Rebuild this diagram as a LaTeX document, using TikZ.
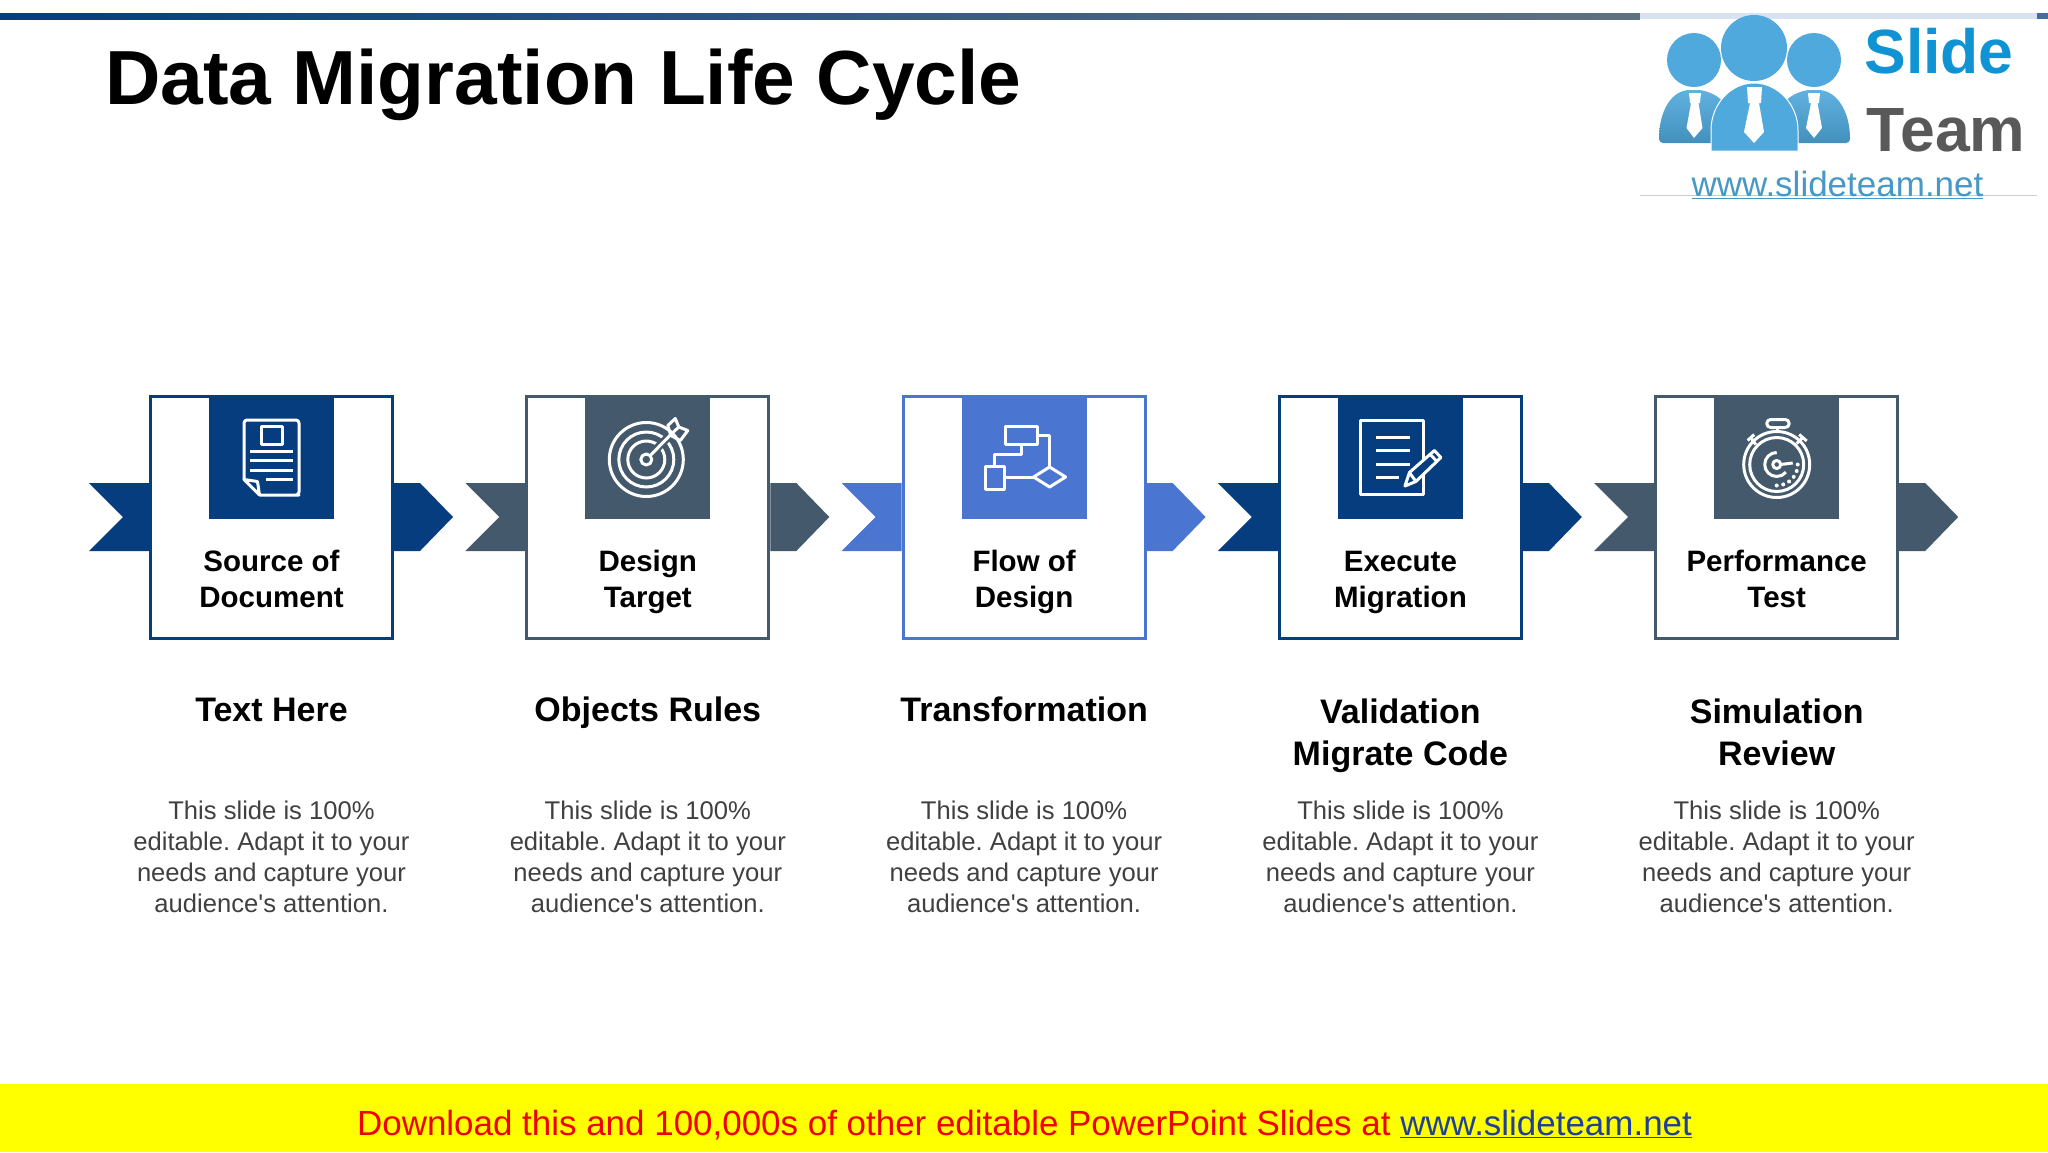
\documentclass[tikz,border=0pt]{standalone}
\usepackage{fontspec}
\setmainfont{Liberation Sans}
\usetikzlibrary{positioning}
\definecolor{navy}{HTML}{053D7F}
\definecolor{slate}{HTML}{44596B}
\definecolor{azure}{HTML}{4A76D2}
\definecolor{bodygray}{HTML}{404040}
\definecolor{logoblue}{HTML}{4FA9DD}
\definecolor{logocyan}{HTML}{0F93D2}
\definecolor{bandblue}{HTML}{D9E2F0}
\definecolor{linkblue}{HTML}{1F3F9E}
\definecolor{footerfill}{HTML}{FFFF00}
\definecolor{footertext}{HTML}{F00000}
\newcommand{\notetext}{This slide is 100\%\\editable. Adapt it to your\\needs and capture your\\audience\textquotesingle s attention.}

\begin{document}
\begin{tikzpicture}[
  x=1pt, y=-1pt,
  stagebox/.style={rectangle, draw=#1, line width=3pt, fill=white, minimum size=242pt, inner sep=0pt, outer sep=0pt},
  iconbox/.style={rectangle, fill=#1, minimum width=125pt, minimum height=123pt, inner sep=0pt, outer sep=0pt},
  stagelabel/.style={align=center, inner sep=0pt, font=\fontsize{29.5}{36}\selectfont\bfseries},
  heading/.style={align=center, inner sep=0pt, font=\fontsize{34}{42}\selectfont\bfseries},
  note/.style={align=center, inner sep=0pt, text=bodygray, font=\fontsize{25.6}{31}\selectfont\frenchspacing},
  glyph/.style={draw=white, line width=3pt, line join=round},
  head/.style={fill=logoblue},
  tie/.style={fill=white}
]
\useasboundingbox (0,0) rectangle (2048,1152);
\fill[white] (0,0) rectangle (2048,1152);

% top rule and title
\shade[left color=navy, right color=slate!85!white] (0,13) rectangle (1640,19);
\node[anchor=base west, inner sep=0pt, font=\fontsize{76.7}{90}\selectfont\bfseries] (title) at (105,104) {Data Migration Life Cycle};

% stages
\node[stagebox=navy] (box1) at (271.5,517) {};
\node[stagebox=slate, right=134.3pt of box1] (box2) {};
\node[stagebox=azure, right=134.3pt of box2] (box3) {};
\node[stagebox=navy, right=134.3pt of box3] (box4) {};
\node[stagebox=slate, right=134.3pt of box4] (box5) {};

\foreach \n/\c in {1/navy, 2/slate, 3/azure, 4/navy, 5/slate} {
  \node[iconbox=\c, anchor=north] (icon\n) at (box\n.north) {};
  \begin{scope}[shift={(box\n.center)}]
    \fill[\c] (-122.5,-34) -- (-182.5,-34) -- (-148.5,0) -- (-182.5,34) -- (-122.5,34) -- cycle;
    \fill[\c] (122.5,-34) -- (148.5,-34) -- (181.5,0) -- (148.5,34) -- (122.5,34) -- cycle;
  \end{scope}
}

\node[stagelabel, below=31pt of icon1] (label1) {Source of\\Document};
\node[stagelabel, below=31pt of icon2] (label2) {Design\\Target};
\node[stagelabel, below=31pt of icon3] (label3) {Flow of\\Design};
\node[stagelabel, below=32pt of icon4] (label4) {Execute\\Migration};
\node[stagelabel, below=31pt of icon5] (label5) {Performance\\Test};

\node[heading, below=60pt of box1] (head1) {Text Here};
\node[heading, below=59pt of box2] (head2) {Objects Rules};
\node[heading, below=59pt of box3] (head3) {Transformation};
\node[heading, below=61pt of box4] (head4) {Validation\\Migrate Code};
\node[heading, below=61pt of box5] (head5) {Simulation\\Review};

\node[note, below=163pt of box1] (note1) {\notetext};
\node[note, below=163pt of box2] (note2) {\notetext};
\node[note, below=163pt of box3] (note3) {\notetext};
\node[note, below=163pt of box4] (note4) {\notetext};
\node[note, below=163pt of box5] (note5) {\notetext};

% document icon
\begin{scope}[shift={(icon1.center)}, glyph]
  \draw[rounded corners=3pt] (-12,37.5) -- (24.5,37.5) -- (27.5,37.5) -- (27.5,-37.5) -- (-27.5,-37.5) -- (-27.5,22);
  \draw (-27.5,22) -- (-12,37.5) -- (-14,24) -- cycle;
  \draw (-10.5,-31.5) rectangle (10.5,-13.5);
  \draw (-21.5,-6.5) -- (21.5,-6.5);
  \draw (-21.5,3) -- (21.5,3);
  \draw (-21.5,12.5) -- (21.5,12.5);
  \draw (-5.5,22) -- (21.5,22);
\end{scope}

% target icon
\begin{scope}[shift={(icon2.center)}, glyph]
  \draw (-1.5,2) circle[radius=37pt];
  \draw (-1.5,2) circle[radius=27.5pt];
  \draw (-1.5,2) circle[radius=18.5pt];
  \draw (-1.5,2) circle[radius=5.5pt];
  \draw[slate, line width=8pt] (3,-3) -- (24,-24);
  \draw (2.5,-2) -- (24,-24);
  \draw (20,-32) -- (27.5,-39) -- (31,-30.5) -- (40,-27) -- (32.5,-17) -- (23,-22) -- cycle;
  \draw (24,-24) -- (31,-30.5);
\end{scope}

% flow icon
\begin{scope}[shift={(icon3.center)}, glyph]
  \draw (-18.5,-31.5) rectangle (13,-13);
  \draw (-39,8.5) rectangle (-20,32);
  \draw (9.5,19.5) -- (25.5,9.5) -- (41.5,19.5) -- (25.5,29.5) -- cycle;
  \draw (13,-22.5) -- (25,-22.5) -- (25,9.5);
  \draw (-2.5,-13) -- (-2.5,-3) -- (-29.5,-3) -- (-29.5,8.5);
  \draw (-20,19.5) -- (9.5,19.5);
\end{scope}

% execute icon
\begin{scope}[shift={(icon4.center)}, glyph]
  \draw (-39.5,-37) rectangle (23,37);
  \draw (-24.5,-20.5) -- (10,-20.5);
  \draw (-24.5,-7) -- (10,-7);
  \draw (-24.5,6.5) -- (10,6.5);
  \draw (-24.5,19.5) -- (-1,19.5);
  \draw[fill=navy] (4.5,28.5) -- (9,15) -- (34,-7) -- (40.5,0) -- (15.5,24) -- cycle;
  \draw (30,-3) -- (36.5,4);
  \draw (9,15) -- (15.5,24);
\end{scope}

% stopwatch icon
\begin{scope}[shift={(icon5.center)}, glyph]
  \draw (0,7) circle[radius=33pt];
  \draw (0,7) circle[radius=27pt];
  \draw[rounded corners=4pt] (-10,-38) rectangle (12.5,-30);
  \draw (1,-30) -- (1,-25);
  \draw (-21,-13) -- (-26,-20);
  \draw (-29,-17) -- (-22.5,-23);
  \draw (20,-14) -- (26,-20);
  \draw (22.5,-23) -- (30,-16.5);
  \draw (0,7) circle[radius=4pt];
  \draw (4,7) -- (16,5.5);
  \draw (0,-5) arc[start angle=90, end angle=320, radius=12pt];
  \foreach \a in {-90,-72,...,0}
    \fill[white] ([shift={(0,7)}]\a:21pt) circle[radius=2pt];
\end{scope}

% logo
\fill[white] (1640,19) rectangle (2040,195);
\fill[bandblue] (1640,13) rectangle (2037,19);
\fill[navy!75!white] (2037,13) rectangle (2048,19);
\draw[black!20] (1640,195) -- (2037,195);
\fill[head] (1694,60) circle[radius=27pt];
\fill[head] (1814,60) circle[radius=27pt];
\shade[top color=logoblue!90!white, bottom color=logoblue!85!black, rounded corners=4pt] (1659,143) .. controls (1659,110) and (1672,90) .. (1694,90) .. controls (1705,90) and (1718,95) .. (1725,105) -- (1725,143) -- cycle;
\shade[top color=logoblue!90!white, bottom color=logoblue!85!black, rounded corners=4pt] (1850,143) .. controls (1850,110) and (1836,90) .. (1814,90) .. controls (1803,90) and (1790,95) .. (1783,105) -- (1783,143) -- cycle;
\fill[tie] (1689,93) -- (1701,93) -- (1700,103) -- (1698.5,103) -- (1702.5,128) -- (1694,138) -- (1686.5,128) -- (1691,103) -- (1690,103) -- cycle;
\fill[tie] (1808,93) -- (1820,93) -- (1819,103) -- (1817.5,103) -- (1822,128) -- (1814,138) -- (1806,128) -- (1811,103) -- (1809,103) -- cycle;
\fill[head] (1754,48) circle[radius=33pt];
\draw[white, line width=1pt, fill=logoblue] (1711,151) -- (1711,130) .. controls (1711,105) and (1730,83) .. (1754,83) .. controls (1778,83) and (1798,105) .. (1798,130) -- (1798,151) -- cycle;
\fill[tie] (1747,87) -- (1762,87) -- (1761,103) -- (1759,103) -- (1764,132) -- (1754,143) -- (1744,132) -- (1750,103) -- (1748,103) -- cycle;
\node[anchor=base, inner sep=0pt, text=logocyan, font=\fontsize{62.5}{62}\selectfont\bfseries] (slide) at (1939,73) {Slide};
\node[anchor=base, inner sep=0pt, text=black!65, font=\fontsize{62.5}{62}\selectfont\bfseries] (team) at (1946,151) {Team};
\node[anchor=base, inner sep=0pt, text=logoblue!90!black, font=\fontsize{35}{40}\selectfont] (logolink) at (1837.5,196) {\underline{www.slideteam.net}};

% footer
\fill[footerfill] (0,1084) rectangle (2048,1152);
\node[anchor=base, inner sep=0pt, font=\fontsize{34.95}{40}\selectfont] (footer) at (1024.5,1135) {\textcolor{footertext}{Download this and 100,000s of other editable PowerPoint Slides at} \textcolor{linkblue}{\underline{www.slideteam.net}}};
\end{tikzpicture}
\end{document}
